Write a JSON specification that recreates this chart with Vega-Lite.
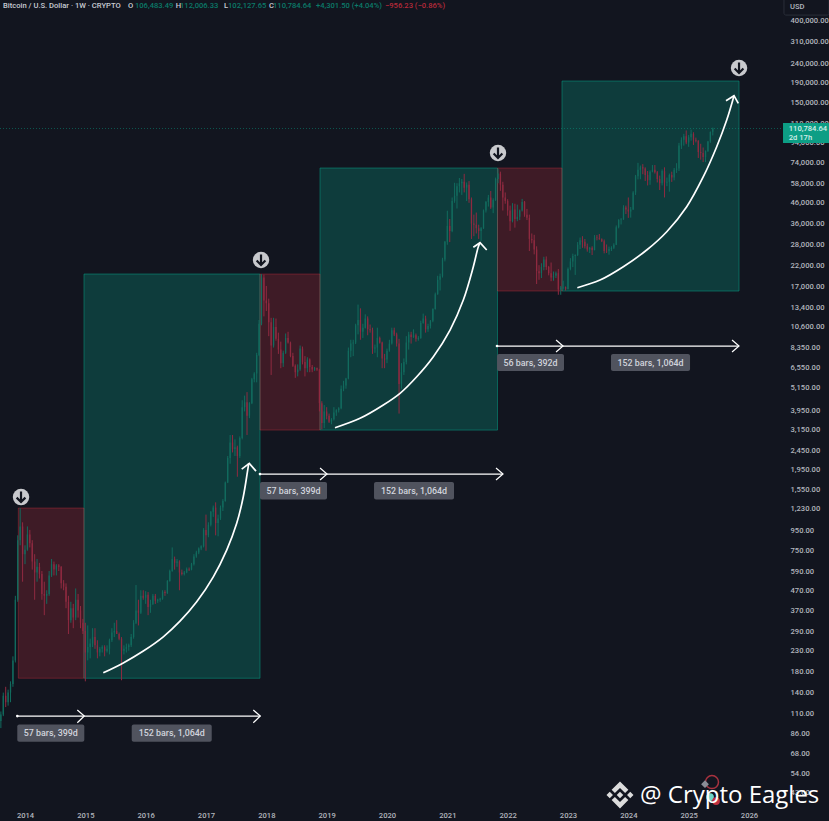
{
"$schema":"https://vega.github.io/schema/vega-lite/v6.json",
"width":785,"height":800,
"autosize":{"type":"none"},
"padding":{"left":0,"top":0,"right":44,"bottom":21},
"background":"#12151f",
"config":{"view":{"stroke":null},"text":{"font":"Roboto"},"axis":{"labelFont":"Roboto","labelColor":"#b2b5be","labelFontSize":7.6,"labelFontWeight":500,"grid":false,"domain":false,"ticks":false,"title":null}},
"resolve":{"scale":{"color":"independent"}},
"datasets":{
"candles":[
{"t":2013.60,"o":100,"h":112,"l":92,"c":108},{"t":2013.64,"o":108,"h":140,"l":106,"c":135},{"t":2013.68,"o":135,"h":150,"l":118,"c":125},{"t":2013.72,"o":125,"h":145,"l":120,"c":140},{"t":2013.76,"o":140,"h":160,"l":125,"c":155},{"t":2013.80,"o":155,"h":215,"l":150,"c":205},{"t":2013.84,"o":205,"h":440,"l":200,"c":420},{"t":2013.88,"o":420,"h":900,"l":410,"c":850},{"t":2013.92,"o":850,"h":1240,"l":800,"c":1000},{"t":2013.96,"o":1000,"h":1050,"l":520,"c":720},
{"t":2014.00,"o":720,"h":800,"l":640,"c":760},{"t":2014.04,"o":760,"h":1000,"l":750,"c":910},{"t":2014.08,"o":910,"h":960,"l":780,"c":820},{"t":2014.12,"o":820,"h":850,"l":600,"c":660},{"t":2014.16,"o":660,"h":720,"l":420,"c":580},{"t":2014.20,"o":580,"h":680,"l":520,"c":620},{"t":2014.24,"o":620,"h":650,"l":540,"c":570},{"t":2014.28,"o":570,"h":590,"l":420,"c":450},{"t":2014.32,"o":450,"h":520,"l":350,"c":440},{"t":2014.36,"o":440,"h":470,"l":400,"c":450},{"t":2014.40,"o":450,"h":590,"l":440,"c":560},{"t":2014.44,"o":560,"h":680,"l":550,"c":640},{"t":2014.48,"o":640,"h":660,"l":560,"c":600},{"t":2014.52,"o":600,"h":640,"l":560,"c":630},{"t":2014.56,"o":630,"h":640,"l":590,"c":620},{"t":2014.60,"o":620,"h":625,"l":480,"c":510},{"t":2014.64,"o":510,"h":530,"l":470,"c":490},{"t":2014.68,"o":490,"h":510,"l":380,"c":410},{"t":2014.72,"o":410,"h":440,"l":280,"c":330},{"t":2014.76,"o":330,"h":410,"l":320,"c":380},{"t":2014.80,"o":380,"h":400,"l":300,"c":340},{"t":2014.84,"o":340,"h":480,"l":330,"c":420},{"t":2014.88,"o":420,"h":450,"l":340,"c":370},{"t":2014.92,"o":370,"h":390,"l":300,"c":320},{"t":2014.96,"o":320,"h":335,"l":280,"c":290},
{"t":2015.00,"o":290,"h":320,"l":160,"c":225},{"t":2015.04,"o":225,"h":310,"l":205,"c":240},{"t":2015.08,"o":240,"h":265,"l":210,"c":250},{"t":2015.12,"o":250,"h":300,"l":240,"c":270},{"t":2015.16,"o":270,"h":300,"l":235,"c":245},{"t":2015.20,"o":245,"h":260,"l":210,"c":225},{"t":2015.24,"o":225,"h":240,"l":215,"c":235},{"t":2015.28,"o":235,"h":245,"l":225,"c":240},{"t":2015.32,"o":240,"h":245,"l":215,"c":230},{"t":2015.36,"o":230,"h":245,"l":225,"c":235},{"t":2015.40,"o":235,"h":265,"l":220,"c":260},{"t":2015.44,"o":260,"h":300,"l":255,"c":285},{"t":2015.48,"o":285,"h":320,"l":270,"c":290},{"t":2015.52,"o":290,"h":330,"l":280,"c":280},{"t":2015.56,"o":280,"h":285,"l":260,"c":265},{"t":2015.60,"o":265,"h":270,"l":162,"c":230},{"t":2015.64,"o":230,"h":245,"l":220,"c":235},{"t":2015.68,"o":235,"h":250,"l":225,"c":240},{"t":2015.72,"o":240,"h":250,"l":230,"c":245},{"t":2015.76,"o":245,"h":280,"l":240,"c":270},{"t":2015.80,"o":270,"h":330,"l":265,"c":320},{"t":2015.84,"o":320,"h":500,"l":315,"c":370},{"t":2015.88,"o":370,"h":420,"l":310,"c":360},{"t":2015.92,"o":360,"h":470,"l":355,"c":440},{"t":2015.96,"o":440,"h":470,"l":420,"c":430},
{"t":2016.00,"o":430,"h":465,"l":400,"c":445},{"t":2016.04,"o":445,"h":460,"l":350,"c":385},{"t":2016.08,"o":385,"h":420,"l":360,"c":400},{"t":2016.12,"o":400,"h":450,"l":395,"c":440},{"t":2016.16,"o":440,"h":450,"l":400,"c":415},{"t":2016.20,"o":415,"h":425,"l":405,"c":420},{"t":2016.24,"o":420,"h":430,"l":410,"c":425},{"t":2016.28,"o":425,"h":470,"l":420,"c":460},{"t":2016.32,"o":460,"h":470,"l":440,"c":455},{"t":2016.36,"o":455,"h":530,"l":450,"c":525},{"t":2016.40,"o":525,"h":600,"l":520,"c":590},{"t":2016.44,"o":590,"h":780,"l":585,"c":680},{"t":2016.48,"o":680,"h":700,"l":600,"c":650},{"t":2016.52,"o":650,"h":680,"l":620,"c":660},{"t":2016.56,"o":660,"h":670,"l":470,"c":580},{"t":2016.60,"o":580,"h":600,"l":560,"c":570},{"t":2016.64,"o":570,"h":590,"l":560,"c":580},{"t":2016.68,"o":580,"h":615,"l":575,"c":605},{"t":2016.72,"o":605,"h":615,"l":590,"c":600},{"t":2016.76,"o":600,"h":650,"l":595,"c":640},{"t":2016.80,"o":640,"h":720,"l":630,"c":700},{"t":2016.84,"o":700,"h":750,"l":690,"c":735},{"t":2016.88,"o":735,"h":780,"l":720,"c":770},{"t":2016.92,"o":770,"h":800,"l":755,"c":790},{"t":2016.96,"o":790,"h":980,"l":780,"c":960},
{"t":2017.00,"o":960,"h":1150,"l":750,"c":900},{"t":2017.04,"o":900,"h":1050,"l":880,"c":1020},{"t":2017.08,"o":1020,"h":1200,"l":1000,"c":1190},{"t":2017.12,"o":1190,"h":1280,"l":1120,"c":1250},{"t":2017.16,"o":1250,"h":1330,"l":900,"c":1040},{"t":2017.20,"o":1040,"h":1150,"l":890,"c":1100},{"t":2017.24,"o":1100,"h":1280,"l":1080,"c":1250},{"t":2017.28,"o":1250,"h":1380,"l":1200,"c":1350},{"t":2017.32,"o":1350,"h":1700,"l":1340,"c":1680},{"t":2017.36,"o":1680,"h":2300,"l":1670,"c":2250},{"t":2017.40,"o":2250,"h":2950,"l":2100,"c":2700},{"t":2017.44,"o":2700,"h":2950,"l":2400,"c":2500},{"t":2017.48,"o":2500,"h":2800,"l":2300,"c":2550},{"t":2017.52,"o":2550,"h":2600,"l":1800,"c":2300},{"t":2017.56,"o":2300,"h":2900,"l":2250,"c":2850},{"t":2017.60,"o":2850,"h":4450,"l":2800,"c":4100},{"t":2017.64,"o":4100,"h":4700,"l":3900,"c":4350},{"t":2017.68,"o":4350,"h":4900,"l":2950,"c":3700},{"t":2017.72,"o":3700,"h":4350,"l":3600,"c":4300},{"t":2017.76,"o":4300,"h":5800,"l":4250,"c":5700},{"t":2017.80,"o":5700,"h":6200,"l":5500,"c":6100},{"t":2017.84,"o":6100,"h":7800,"l":5500,"c":7600},{"t":2017.88,"o":7600,"h":11500,"l":7500,"c":11000},{"t":2017.92,"o":11000,"h":19800,"l":10800,"c":19000},{"t":2017.96,"o":19000,"h":19700,"l":12000,"c":14500},
{"t":2018.00,"o":14500,"h":17200,"l":12800,"c":14000},{"t":2018.04,"o":14000,"h":14800,"l":9500,"c":11200},{"t":2018.08,"o":11200,"h":11800,"l":6000,"c":8500},{"t":2018.12,"o":8500,"h":11800,"l":8300,"c":10600},{"t":2018.16,"o":10600,"h":11700,"l":9000,"c":9200},{"t":2018.20,"o":9200,"h":9900,"l":7700,"c":8100},{"t":2018.24,"o":8100,"h":8900,"l":6500,"c":6900},{"t":2018.28,"o":6900,"h":8000,"l":6600,"c":7800},{"t":2018.32,"o":7800,"h":9800,"l":7700,"c":9300},{"t":2018.36,"o":9300,"h":10000,"l":8700,"c":8800},{"t":2018.40,"o":8800,"h":8900,"l":7400,"c":7500},{"t":2018.44,"o":7500,"h":7800,"l":6600,"c":6700},{"t":2018.48,"o":6700,"h":6800,"l":5800,"c":6200},{"t":2018.52,"o":6200,"h":6800,"l":5900,"c":6400},{"t":2018.56,"o":6400,"h":8500,"l":6300,"c":8200},{"t":2018.60,"o":8200,"h":8400,"l":6800,"c":7000},{"t":2018.64,"o":7000,"h":7500,"l":5900,"c":6500},{"t":2018.68,"o":6500,"h":7400,"l":6200,"c":7200},{"t":2018.72,"o":7200,"h":7300,"l":6200,"c":6600},{"t":2018.76,"o":6600,"h":6750,"l":6200,"c":6400},{"t":2018.80,"o":6400,"h":6600,"l":6300,"c":6500},{"t":2018.84,"o":6500,"h":6550,"l":6300,"c":6400},{"t":2018.88,"o":6400,"h":6450,"l":3900,"c":4300},{"t":2018.92,"o":4300,"h":4400,"l":3150,"c":3400},{"t":2018.96,"o":3400,"h":4200,"l":3200,"c":3900},
{"t":2019.00,"o":3900,"h":4100,"l":3550,"c":3700},{"t":2019.04,"o":3700,"h":3800,"l":3400,"c":3450},{"t":2019.08,"o":3450,"h":3600,"l":3350,"c":3550},{"t":2019.12,"o":3550,"h":4100,"l":3500,"c":3850},{"t":2019.16,"o":3850,"h":4000,"l":3700,"c":3950},{"t":2019.20,"o":3950,"h":4100,"l":3850,"c":4050},{"t":2019.24,"o":4050,"h":5300,"l":4000,"c":5100},{"t":2019.28,"o":5100,"h":5600,"l":4950,"c":5300},{"t":2019.32,"o":5300,"h":5800,"l":5100,"c":5750},{"t":2019.36,"o":5750,"h":8300,"l":5700,"c":8000},{"t":2019.40,"o":8000,"h":9100,"l":7400,"c":8700},{"t":2019.44,"o":8700,"h":9100,"l":7500,"c":8800},{"t":2019.48,"o":8800,"h":11000,"l":8650,"c":10800},{"t":2019.52,"o":10800,"h":13800,"l":9700,"c":11500},{"t":2019.56,"o":11500,"h":13200,"l":9100,"c":10000},{"t":2019.60,"o":10000,"h":11000,"l":9300,"c":10500},{"t":2019.64,"o":10500,"h":12300,"l":10400,"c":11700},{"t":2019.68,"o":11700,"h":12000,"l":9600,"c":10300},{"t":2019.72,"o":10300,"h":10900,"l":9900,"c":10200},{"t":2019.76,"o":10200,"h":10500,"l":7700,"c":8200},{"t":2019.80,"o":8200,"h":8600,"l":7800,"c":8300},{"t":2019.84,"o":8300,"h":10500,"l":7400,"c":9300},{"t":2019.88,"o":9300,"h":9450,"l":8700,"c":8800},{"t":2019.92,"o":8800,"h":8900,"l":6500,"c":7300},{"t":2019.96,"o":7300,"h":7700,"l":6500,"c":7200},
{"t":2020.00,"o":7200,"h":8200,"l":6900,"c":8000},{"t":2020.04,"o":8000,"h":9100,"l":7900,"c":8700},{"t":2020.08,"o":8700,"h":10500,"l":8600,"c":10200},{"t":2020.12,"o":10200,"h":10500,"l":9500,"c":9700},{"t":2020.16,"o":9700,"h":9900,"l":8400,"c":8700},{"t":2020.20,"o":8700,"h":9200,"l":3800,"c":5400},{"t":2020.24,"o":5400,"h":6900,"l":5100,"c":6200},{"t":2020.28,"o":6200,"h":7300,"l":6000,"c":7000},{"t":2020.32,"o":7000,"h":9500,"l":6800,"c":8800},{"t":2020.36,"o":8800,"h":10000,"l":8100,"c":9700},{"t":2020.40,"o":9700,"h":10000,"l":8700,"c":9400},{"t":2020.44,"o":9400,"h":10300,"l":9300,"c":9600},{"t":2020.48,"o":9600,"h":9800,"l":8900,"c":9200},{"t":2020.52,"o":9200,"h":9500,"l":9000,"c":9300},{"t":2020.56,"o":9300,"h":11400,"l":9200,"c":11100},{"t":2020.60,"o":11100,"h":12400,"l":11000,"c":11700},{"t":2020.64,"o":11700,"h":12100,"l":9900,"c":10300},{"t":2020.68,"o":10300,"h":11000,"l":10000,"c":10700},{"t":2020.72,"o":10700,"h":11500,"l":10400,"c":11400},{"t":2020.76,"o":11400,"h":13200,"l":11200,"c":13100},{"t":2020.80,"o":13100,"h":15900,"l":13000,"c":15600},{"t":2020.84,"o":15600,"h":19400,"l":15500,"c":18500},{"t":2020.88,"o":18500,"h":19900,"l":16300,"c":19300},{"t":2020.92,"o":19300,"h":24000,"l":19000,"c":23500},{"t":2020.96,"o":23500,"h":29300,"l":23000,"c":29000},
{"t":2021.00,"o":29000,"h":41900,"l":28000,"c":35000},{"t":2021.04,"o":35000,"h":38000,"l":28900,"c":33000},{"t":2021.08,"o":33000,"h":49000,"l":32500,"c":47000},{"t":2021.12,"o":47000,"h":58300,"l":46000,"c":50000},{"t":2021.16,"o":50000,"h":58000,"l":43000,"c":56000},{"t":2021.20,"o":56000,"h":61700,"l":52000,"c":58000},{"t":2021.24,"o":58000,"h":61000,"l":50500,"c":59000},{"t":2021.28,"o":59000,"h":64800,"l":52000,"c":55000},{"t":2021.32,"o":55000,"h":58500,"l":47000,"c":57000},{"t":2021.36,"o":57000,"h":59500,"l":46000,"c":48000},{"t":2021.40,"o":48000,"h":49000,"l":30000,"c":36000},{"t":2021.44,"o":36000,"h":40000,"l":31000,"c":35500},{"t":2021.48,"o":35500,"h":41000,"l":32000,"c":34000},{"t":2021.52,"o":34000,"h":35500,"l":30000,"c":33000},{"t":2021.56,"o":33000,"h":34500,"l":29300,"c":34000},{"t":2021.60,"o":34000,"h":42500,"l":33800,"c":42000},{"t":2021.64,"o":42000,"h":47000,"l":41000,"c":46500},{"t":2021.68,"o":46500,"h":50500,"l":44000,"c":49000},{"t":2021.72,"o":49000,"h":52900,"l":42800,"c":43500},{"t":2021.76,"o":43500,"h":48500,"l":40700,"c":47500},{"t":2021.80,"o":47500,"h":62000,"l":47000,"c":61000},{"t":2021.84,"o":61000,"h":69000,"l":58000,"c":65000},{"t":2021.88,"o":65000,"h":66500,"l":53000,"c":57000},{"t":2021.92,"o":57000,"h":59000,"l":42000,"c":49000},{"t":2021.96,"o":49000,"h":52000,"l":45500,"c":47000},
{"t":2022.00,"o":47000,"h":48000,"l":39500,"c":42000},{"t":2022.04,"o":42000,"h":44500,"l":33000,"c":37000},{"t":2022.08,"o":37000,"h":45800,"l":36500,"c":42500},{"t":2022.12,"o":42500,"h":45500,"l":34300,"c":38000},{"t":2022.16,"o":38000,"h":45000,"l":37000,"c":39000},{"t":2022.20,"o":39000,"h":42500,"l":37500,"c":42000},{"t":2022.24,"o":42000,"h":48200,"l":41500,"c":46500},{"t":2022.28,"o":46500,"h":47000,"l":39000,"c":40000},{"t":2022.32,"o":40000,"h":42800,"l":37500,"c":38500},{"t":2022.36,"o":38500,"h":40000,"l":26000,"c":30000},{"t":2022.40,"o":30000,"h":32000,"l":28500,"c":29500},{"t":2022.44,"o":29500,"h":31500,"l":25000,"c":26500},{"t":2022.48,"o":26500,"h":27500,"l":17600,"c":20500},{"t":2022.52,"o":20500,"h":22000,"l":18500,"c":20000},{"t":2022.56,"o":20000,"h":22500,"l":18900,"c":21500},{"t":2022.60,"o":21500,"h":24300,"l":20700,"c":23500},{"t":2022.64,"o":23500,"h":24400,"l":20800,"c":21500},{"t":2022.68,"o":21500,"h":21800,"l":19500,"c":20000},{"t":2022.72,"o":20000,"h":22700,"l":18200,"c":19000},{"t":2022.76,"o":19000,"h":20400,"l":18300,"c":19400},{"t":2022.80,"o":19400,"h":20400,"l":18900,"c":20000},{"t":2022.84,"o":20000,"h":21000,"l":15500,"c":16500},{"t":2022.88,"o":16500,"h":17200,"l":15500,"c":16900},{"t":2022.92,"o":16900,"h":18300,"l":16500,"c":17000},{"t":2022.96,"o":17000,"h":17100,"l":16300,"c":16600},
{"t":2023.00,"o":16600,"h":21400,"l":16500,"c":21000},{"t":2023.04,"o":21000,"h":23900,"l":20700,"c":23000},{"t":2023.08,"o":23000,"h":25200,"l":21500,"c":24500},{"t":2023.12,"o":24500,"h":25000,"l":19600,"c":24800},{"t":2023.16,"o":24800,"h":28900,"l":24500,"c":28000},{"t":2023.20,"o":28000,"h":30500,"l":26600,"c":29500},{"t":2023.24,"o":29500,"h":31000,"l":27000,"c":29000},{"t":2023.28,"o":29000,"h":30000,"l":26800,"c":27500},{"t":2023.32,"o":27500,"h":28400,"l":25800,"c":26500},{"t":2023.36,"o":26500,"h":27300,"l":25400,"c":27000},{"t":2023.40,"o":27000,"h":27500,"l":24800,"c":26300},{"t":2023.44,"o":26300,"h":31400,"l":26200,"c":30500},{"t":2023.48,"o":30500,"h":31400,"l":29500,"c":30300},{"t":2023.52,"o":30300,"h":31800,"l":29700,"c":29900},{"t":2023.56,"o":29900,"h":30200,"l":28900,"c":29200},{"t":2023.60,"o":29200,"h":29800,"l":25300,"c":26000},{"t":2023.64,"o":26000,"h":28100,"l":25400,"c":25900},{"t":2023.68,"o":25900,"h":27400,"l":24900,"c":26600},{"t":2023.72,"o":26600,"h":27500,"l":26000,"c":27000},{"t":2023.76,"o":27000,"h":28500,"l":26600,"c":28000},{"t":2023.80,"o":28000,"h":35200,"l":27900,"c":34500},{"t":2023.84,"o":34500,"h":37900,"l":34000,"c":37500},{"t":2023.88,"o":37500,"h":38400,"l":35600,"c":37800},{"t":2023.92,"o":37800,"h":44700,"l":37600,"c":43500},{"t":2023.96,"o":43500,"h":44500,"l":40300,"c":42500},
{"t":2024.00,"o":42500,"h":49000,"l":38500,"c":41500},{"t":2024.04,"o":41500,"h":43800,"l":38600,"c":42500},{"t":2024.08,"o":42500,"h":52800,"l":42300,"c":52000},{"t":2024.12,"o":52000,"h":64000,"l":50500,"c":63000},{"t":2024.16,"o":63000,"h":73800,"l":60700,"c":68000},{"t":2024.20,"o":68000,"h":71500,"l":60800,"c":70000},{"t":2024.24,"o":70000,"h":72700,"l":64500,"c":69000},{"t":2024.28,"o":69000,"h":70000,"l":59600,"c":64000},{"t":2024.32,"o":64000,"h":67000,"l":56500,"c":60000},{"t":2024.36,"o":60000,"h":67500,"l":56900,"c":66500},{"t":2024.40,"o":66500,"h":71900,"l":66000,"c":68000},{"t":2024.44,"o":68000,"h":71900,"l":65000,"c":66000},{"t":2024.48,"o":66000,"h":67000,"l":58500,"c":61000},{"t":2024.52,"o":61000,"h":63500,"l":53500,"c":58000},{"t":2024.56,"o":58000,"h":68300,"l":56500,"c":67000},{"t":2024.60,"o":67000,"h":70000,"l":49000,"c":58500},{"t":2024.64,"o":58500,"h":62000,"l":56000,"c":59000},{"t":2024.68,"o":59000,"h":65000,"l":52500,"c":64000},{"t":2024.72,"o":64000,"h":66500,"l":58900,"c":62000},{"t":2024.76,"o":62000,"h":69500,"l":60000,"c":68000},{"t":2024.80,"o":68000,"h":73500,"l":65500,"c":69000},{"t":2024.84,"o":69000,"h":93500,"l":67000,"c":90500},{"t":2024.88,"o":90500,"h":99800,"l":87000,"c":97000},{"t":2024.92,"o":97000,"h":104000,"l":90500,"c":101000},{"t":2024.96,"o":101000,"h":108300,"l":92000,"c":94000},
{"t":2025.00,"o":94000,"h":102500,"l":89200,"c":100000},{"t":2025.04,"o":100000,"h":109400,"l":96000,"c":104000},{"t":2025.08,"o":104000,"h":106000,"l":91200,"c":97000},{"t":2025.12,"o":97000,"h":99500,"l":94000,"c":96000},{"t":2025.16,"o":96000,"h":96500,"l":78200,"c":84000},{"t":2025.20,"o":84000,"h":92500,"l":76600,"c":83000},{"t":2025.24,"o":83000,"h":88500,"l":74500,"c":79000},{"t":2025.28,"o":79000,"h":85500,"l":74400,"c":85000},{"t":2025.32,"o":85000,"h":95700,"l":83900,"c":95000},{"t":2025.36,"o":95000,"h":107000,"l":93500,"c":106483},{"t":2025.40,"o":106483,"h":112006,"l":102127,"c":110784}
],
"boxes":[
{"k":"down","t":2013.889,"t2":2014.978,"p":166,"p2":1243},
{"k":"up","t":2014.978,"t2":2017.895,"p":166,"p2":19810},
{"k":"down","t":2017.895,"t2":2018.890,"p":3127,"p2":19810},
{"k":"up","t":2018.890,"t2":2021.832,"p":3127,"p2":69430},
{"k":"down","t":2021.832,"t2":2022.901,"p":16200,"p2":69430},
{"k":"up","t":2022.901,"t2":2025.835,"p":16200,"p2":194300}
],
"paths":[
{"k":"curve","s":"c1","i":0,"t":2015.298,"p":177},{"k":"curve","s":"c1","i":1,"t":2015.629,"p":199},{"k":"curve","s":"c1","i":2,"t":2015.961,"p":229},{"k":"curve","s":"c1","i":3,"t":2016.292,"p":271},{"k":"curve","s":"c1","i":4,"t":2016.569,"p":326},{"k":"curve","s":"c1","i":5,"t":2016.846,"p":410},{"k":"curve","s":"c1","i":6,"t":2017.121,"p":551},{"k":"curve","s":"c1","i":7,"t":2017.343,"p":756},{"k":"curve","s":"c1","i":8,"t":2017.509,"p":1037},{"k":"curve","s":"c1","i":9,"t":2017.618,"p":1421},{"k":"curve","s":"c1","i":10,"t":2017.691,"p":1948},{"k":"curve","s":"c1","i":11,"t":2017.708,"p":2109},
{"k":"curve","s":"c2","i":0,"t":2019.138,"p":3214},{"k":"curve","s":"c2","i":1,"t":2019.553,"p":3592},{"k":"curve","s":"c2","i":2,"t":2019.939,"p":4205},{"k":"curve","s":"c2","i":3,"t":2020.216,"p":4829},{"k":"curve","s":"c2","i":4,"t":2020.493,"p":5876},{"k":"curve","s":"c2","i":5,"t":2020.768,"p":7446},{"k":"curve","s":"c2","i":6,"t":2021.045,"p":10210},{"k":"curve","s":"c2","i":7,"t":2021.265,"p":14563},{"k":"curve","s":"c2","i":8,"t":2021.431,"p":21600},{"k":"curve","s":"c2","i":9,"t":2021.514,"p":27360},{"k":"curve","s":"c2","i":10,"t":2021.542,"p":28590},
{"k":"curve","s":"c3","i":0,"t":2023.155,"p":16850},{"k":"curve","s":"c3","i":1,"t":2023.531,"p":18450},{"k":"curve","s":"c3","i":2,"t":2023.917,"p":21600},{"k":"curve","s":"c3","i":3,"t":2024.305,"p":26320},{"k":"curve","s":"c3","i":4,"t":2024.637,"p":32680},{"k":"curve","s":"c3","i":5,"t":2024.968,"p":43930},{"k":"curve","s":"c3","i":6,"t":2025.243,"p":62650},{"k":"curve","s":"c3","i":7,"t":2025.465,"p":89330},{"k":"curve","s":"c3","i":8,"t":2025.631,"p":122500},{"k":"curve","s":"c3","i":9,"t":2025.752,"p":163400},
{"k":"head","s":"h1","i":0,"t":2017.592,"p":1971},{"k":"head","s":"h1","i":1,"t":2017.718,"p":2109},{"k":"head","s":"h1","i":2,"t":2017.829,"p":1925},
{"k":"head","s":"h2","i":0,"t":2021.431,"p":27170},{"k":"head","s":"h2","i":1,"t":2021.542,"p":28690},{"k":"head","s":"h2","i":2,"t":2021.653,"p":26320},
{"k":"head","s":"h3","i":0,"t":2025.619,"p":154000},{"k":"head","s":"h3","i":1,"t":2025.752,"p":163400},{"k":"head","s":"h3","i":2,"t":2025.823,"p":149300},
{"k":"span","s":"a1","i":0,"t":2013.872,"p":106.1},{"k":"span","s":"a1","i":1,"t":2017.900,"p":106.1},
{"k":"span","s":"a2","i":0,"t":2017.895,"p":1858},{"k":"span","s":"a2","i":1,"t":2021.923,"p":1858},
{"k":"span","s":"a3","i":0,"t":2021.824,"p":8450},{"k":"span","s":"a3","i":1,"t":2025.835,"p":8450},
{"k":"tip","s":"v1","i":0,"t":2014.867,"p":113.9},{"k":"tip","s":"v1","i":1,"t":2014.983,"p":106.1},{"k":"tip","s":"v1","i":2,"t":2014.867,"p":98},
{"k":"tip","s":"v2","i":0,"t":2017.784,"p":113.9},{"k":"tip","s":"v2","i":1,"t":2017.900,"p":106.1},{"k":"tip","s":"v2","i":2,"t":2017.784,"p":98},
{"k":"tip","s":"v3","i":0,"t":2018.890,"p":1995},{"k":"tip","s":"v3","i":1,"t":2019.006,"p":1858},{"k":"tip","s":"v3","i":2,"t":2018.890,"p":1731},
{"k":"tip","s":"v4","i":0,"t":2021.807,"p":1995},{"k":"tip","s":"v4","i":1,"t":2021.923,"p":1858},{"k":"tip","s":"v4","i":2,"t":2021.807,"p":1731},
{"k":"tip","s":"v5","i":0,"t":2022.802,"p":9072},{"k":"tip","s":"v5","i":1,"t":2022.918,"p":8450},{"k":"tip","s":"v5","i":2,"t":2022.802,"p":7872},
{"k":"tip","s":"v6","i":0,"t":2025.719,"p":9072},{"k":"tip","s":"v6","i":1,"t":2025.835,"p":8450},{"k":"tip","s":"v6","i":2,"t":2025.719,"p":7872}
],
"chips":[
{"t":2013.872,"t2":2014.983,"p":78.3,"p2":96.1},{"t":2015.769,"t2":2017.095,"p":78.3,"p2":96.1},
{"t":2017.895,"t2":2019.006,"p":1374,"p2":1690},{"t":2019.785,"t2":2021.111,"p":1374,"p2":1690},
{"t":2021.824,"t2":2022.934,"p":6286,"p2":7687},{"t":2023.713,"t2":2025.023,"p":6286,"p2":7687}
],
"labels":[
{"text":"57 bars, 399d","t":2014.428,"p":86.7},{"text":"152 bars, 1,064d","t":2016.432,"p":86.7},
{"text":"57 bars, 399d","t":2018.450,"p":1524},{"text":"152 bars, 1,064d","t":2020.448,"p":1524},
{"text":"56 bars, 392d","t":2022.379,"p":6951},{"text":"152 bars, 1,064d","t":2024.368,"p":6951}
],
"tops":[{"t":2013.934,"p":1415},{"t":2017.912,"p":23380},{"t":2021.840,"p":82950},{"t":2025.835,"p":226700}],
"header":[
{"text":"Bitcoin / U.S. Dollar · 1W · CRYPTO","t":2013.635,"p":472000,"k":"name"},
{"text":"O","t":2015.707,"p":472000,"k":"name"},{"text":"106,483.49","t":2015.823,"p":472000,"k":"up"},
{"text":"H","t":2016.498,"p":472000,"k":"name"},{"text":"112,006.33","t":2016.569,"p":472000,"k":"up"},
{"text":"L","t":2017.299,"p":472000,"k":"name"},{"text":"102,127.65","t":2017.365,"p":472000,"k":"up"},
{"text":"C","t":2018.044,"p":472000,"k":"name"},{"text":"110,784.64","t":2018.111,"p":472000,"k":"up"},
{"text":"+4,301.50 (+4.04%)","t":2018.823,"p":472000,"k":"up"},
{"text":"−956.23 (−0.86%)","t":2019.967,"p":472000,"k":"down"}
],
"badges":[{"k":"ring","t":2025.387,"p":48.6},{"k":"teal","t":2025.354,"p":40.7},{"k":"red","t":2025.454,"p":38.8},{"k":"gem","t":2025.271,"p":47.4}]
},
"encoding":{
"x":{"field":"t","type":"quantitative","scale":{"domain":[2013.5856,2026.597],"nice":false,"zero":false},
"axis":{"values":[2014,2015,2016,2017,2018,2019,2020,2021,2022,2023,2024,2025,2026],"format":"d","labelPadding":11,"labelFlush":false,"labelOverlap":false}},
"y":{"field":"p","type":"quantitative","scale":{"type":"log","domain":[39.3,506800],"nice":false},
"axis":{"orient":"right","values":[400000,310000,240000,190000,150000,118000,94000,74000,58000,46000,36000,28000,22000,17000,13400,10600,8350,6550,5150,3950,3150,2450,1950,1550,1230,950,750,590,470,370,290,230,180,140,110,86,68,54,43],"format":",.2f","labelPadding":5,"labelOverlap":false,"labelFlush":false}}
},
"layer":[
{"data":{"name":"boxes"},"transform":[{"filter":"datum.k=='up'"}],"mark":{"type":"rect","fill":"#089981","fillOpacity":0.3,"stroke":"#089981","strokeOpacity":0.55,"strokeWidth":1},"encoding":{"x2":{"field":"t2"},"y2":{"field":"p2"}}},
{"data":{"name":"boxes"},"transform":[{"filter":"datum.k=='down'"}],"mark":{"type":"rect","fill":"#f23645","fillOpacity":0.2,"stroke":"#f23645","strokeOpacity":0.3,"strokeWidth":1},"encoding":{"x2":{"field":"t2"},"y2":{"field":"p2"}}},
{"data":{"name":"candles"},"mark":{"type":"rule","strokeWidth":1},"encoding":{"y":{"field":"l","type":"quantitative","axis":{"orient":"right"}},"y2":{"field":"h"},"color":{"condition":{"test":"datum.c>=datum.o","value":"#126b5e"},"value":"#8f2a40"}}},
{"data":{"name":"candles"},"mark":{"type":"rule","strokeWidth":1.3},"encoding":{"y":{"field":"o","type":"quantitative","axis":{"orient":"right"}},"y2":{"field":"c"},"color":{"condition":{"test":"datum.c>=datum.o","value":"#126b5e"},"value":"#8f2a40"}}},
{"data":{"values":[{"t":2013.5856,"t2":2026.597,"p":110784}]},"mark":{"type":"rule","stroke":"#089981","strokeOpacity":0.5,"strokeWidth":1,"strokeDash":[1,2]},"encoding":{"x2":{"field":"t2"}}},
{"data":{"name":"paths"},"transform":[{"filter":"datum.k=='curve'"}],"mark":{"type":"line","stroke":"#ffffff","strokeWidth":1.7,"interpolate":"catmull-rom"},"encoding":{"detail":{"field":"s"},"order":{"field":"i"}}},
{"data":{"name":"paths"},"transform":[{"filter":"datum.k=='head'"}],"mark":{"type":"line","stroke":"#ffffff","strokeWidth":1.7},"encoding":{"detail":{"field":"s"},"order":{"field":"i"}}},
{"data":{"name":"paths"},"transform":[{"filter":"datum.k=='span'||datum.k=='tip'"}],"mark":{"type":"line","stroke":"#ffffff","strokeWidth":1.2},"encoding":{"detail":{"field":"s"},"order":{"field":"i"}}},
{"data":{"name":"paths"},"transform":[{"filter":"datum.k=='span'&&datum.i==0"}],"mark":{"type":"point","filled":true,"fill":"#ffffff","opacity":1,"size":7}},
{"data":{"name":"chips"},"mark":{"type":"rect","fill":"#50535e","cornerRadius":2},"encoding":{"x2":{"field":"t2"},"y2":{"field":"p2"}}},
{"data":{"name":"labels"},"mark":{"type":"text","color":"#d1d4dc","fontSize":8.9,"fontWeight":500},"encoding":{"text":{"field":"text"}}},
{"data":{"name":"tops"},"mark":{"type":"point","shape":"circle","filled":true,"fill":"#c8c9cd","opacity":1,"size":270}},
{"data":{"name":"tops"},"mark":{"type":"point","shape":"M0,-1L0,0.9M-0.8,0.1L0,0.9L0.8,0.1","filled":false,"stroke":"#12151f","strokeWidth":2.2,"opacity":1,"size":120}},
{"data":{"values":[{"t":2026.564,"t2":2027.327,"p":93330,"p2":118300}]},"mark":{"type":"rect","fill":"#0d9e85"},"encoding":{"x2":{"field":"t2"},"y2":{"field":"p2"}}},
{"data":{"values":[{"text":"110,784.64","t":2026.66,"p":110800},{"text":"2d 17h","t":2026.66,"p":99000}]},"mark":{"type":"text","align":"left","color":"#d5efe9","fontSize":7.6,"fontWeight":500},"encoding":{"text":{"field":"text"}}},
{"data":{"values":[{"t":2026.58,"t2":2027.327,"p":424000,"p2":520000}]},"mark":{"type":"rect","fill":"#12151f","stroke":"#2a2e39","strokeWidth":1,"cornerRadius":2},"encoding":{"x2":{"field":"t2"},"y2":{"field":"p2"}}},
{"data":{"values":[{"text":"USD","t":2026.68,"p":468000}]},"mark":{"type":"text","align":"left","color":"#b2b5be","fontSize":7.6,"fontWeight":500},"encoding":{"text":{"field":"text"}}},
{"data":{"name":"header"},"mark":{"type":"text","align":"left","fontSize":7.6,"fontWeight":500},"encoding":{"text":{"field":"text"},"color":{"field":"k","type":"nominal","legend":null,"scale":{"domain":["name","up","down"],"range":["#c9ccd4","#0b7a69","#b82a3a"]}}}},
{"data":{"name":"badges"},"transform":[{"filter":"datum.k=='ring'"}],"mark":{"type":"point","shape":"circle","filled":false,"stroke":"#a8323f","strokeWidth":1.5,"opacity":1,"size":170}},
{"data":{"name":"badges"},"transform":[{"filter":"datum.k!='ring'"}],"mark":{"type":"point","filled":true,"opacity":1,"size":60},"encoding":{"shape":{"field":"k","type":"nominal","legend":null,"scale":{"domain":["teal","red","gem"],"range":["circle","circle","diamond"]}},"color":{"field":"k","type":"nominal","legend":null,"scale":{"domain":["teal","red","gem"],"range":["#6fd6c8","#c0303f","#8a8d96"]}}}},
{"data":{"values":[{"t":2023.862,"p":41.7}]},"mark":{"type":"point","shape":"M0,-1L.62,-.38L.38,-.14L0,-.52L-.38,-.14L-.62,-.38ZM0,1L.62,.38L.38,.14L0,.52L-.38,.14L-.62,.38ZM0,-.24L.24,0L0,.24L-.24,0ZM-.76,-.24L-.52,0L-.76,.24L-1,0ZM.76,-.24L1,0L.76,.24L.52,0Z","filled":true,"fill":"#dcdcdc","opacity":1,"size":729}},
{"data":{"values":[{"text":"@ Crypto Eagles","t":2024.194,"p":41.2}]},"mark":{"type":"text","align":"left","baseline":"middle","font":"Open Sans","fontSize":24,"color":"#ffffff"},"encoding":{"text":{"field":"text"}}}
]
}
